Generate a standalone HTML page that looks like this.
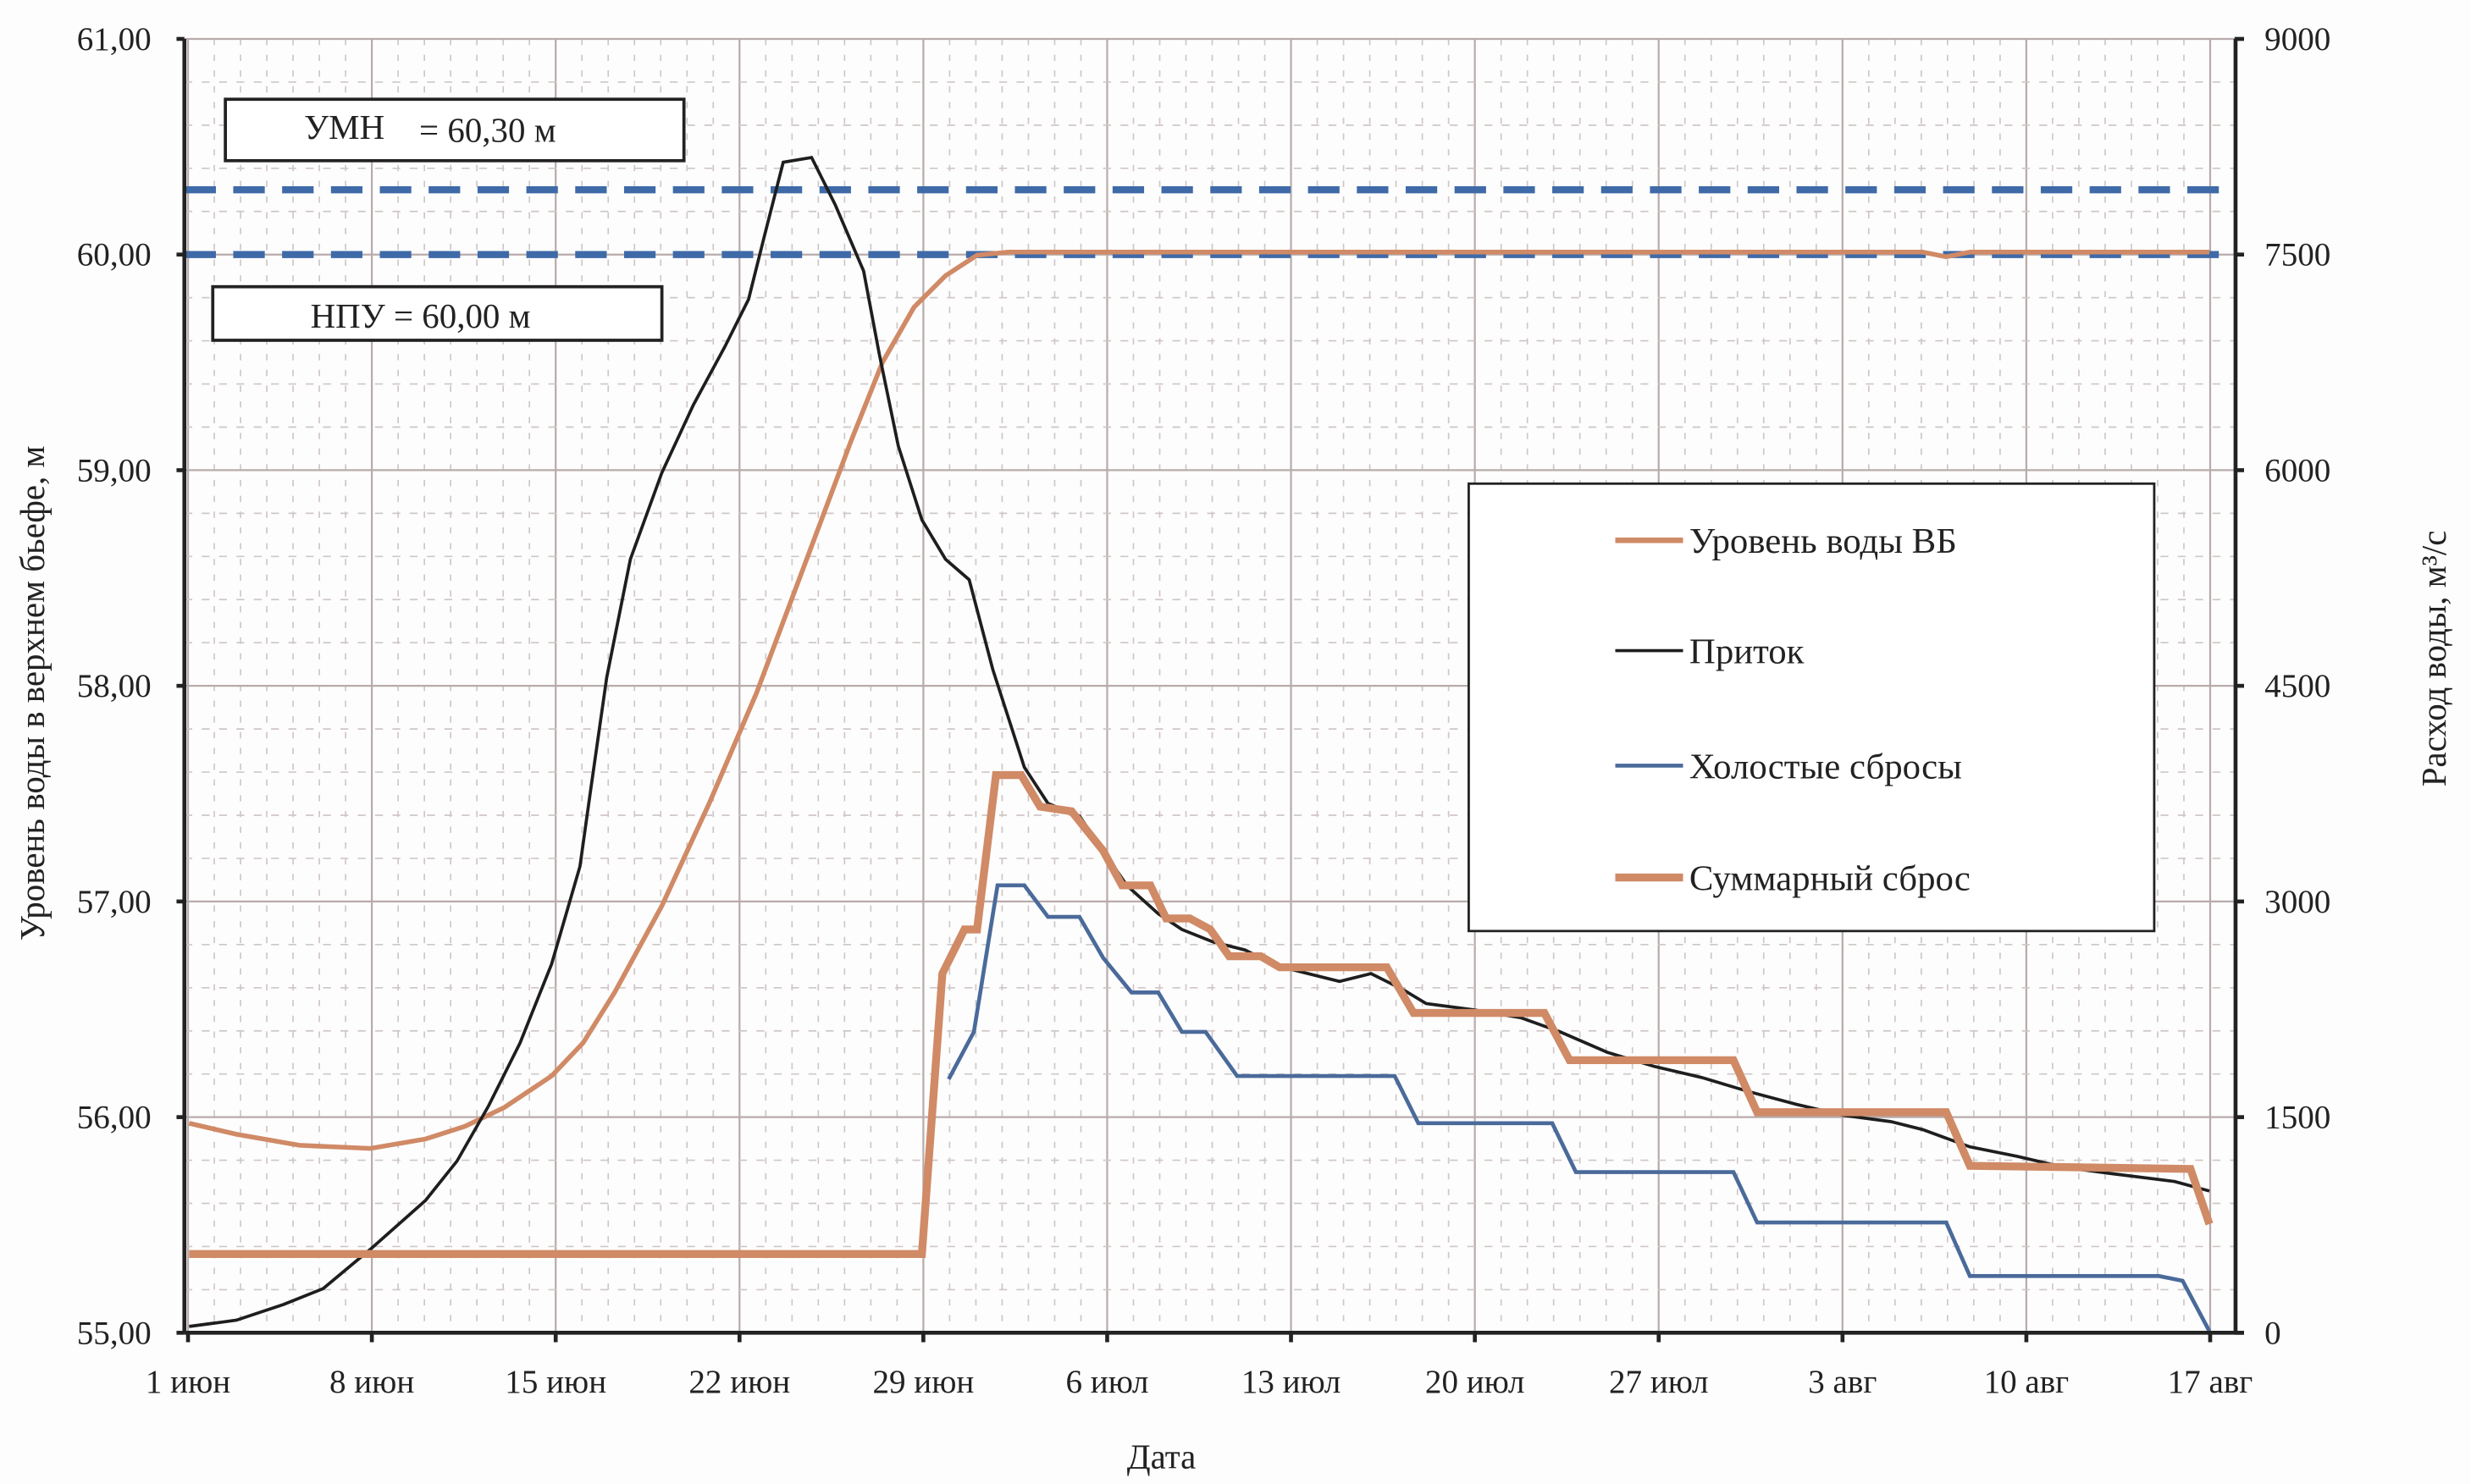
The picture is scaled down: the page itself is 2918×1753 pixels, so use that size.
<!DOCTYPE html>
<html><head><meta charset="utf-8"><style>
html,body{margin:0;padding:0;background:#fdfdfd;}
svg{display:block;}
text{font-family:"Liberation Serif","DejaVu Serif",serif;fill:#222;}
</style></head><body>
<svg id="s" width="2918" height="1753" viewBox="0 0 1568 942" xmlns="http://www.w3.org/2000/svg">
<rect width="1568" height="942" fill="#fdfdfd"/>
<g id="grid"></g>
<line x1="117" y1="120.5" x2="1418" y2="120.5" stroke="#3f6aa8" stroke-width="4.5" stroke-dasharray="20,11"/>
<line x1="117" y1="161.6" x2="1418" y2="161.6" stroke="#3f6aa8" stroke-width="4.5" stroke-dasharray="20,11"/>
<rect x="143" y="63" width="291" height="39" fill="#fff" stroke="#222" stroke-width="2"/>
<text x="193" y="88" font-size="22">УМН</text><text x="266" y="90" font-size="22">= 60,30  м</text>
<rect x="135" y="182" width="285" height="34" fill="#fff" stroke="#222" stroke-width="2"/>
<text x="197" y="208" font-size="22">НПУ = 60,00  м</text>
<polyline fill="none" stroke="#d08a66" stroke-width="3" points="120,713 150,720 190,727 235,729 270,723 295,715 320,703 350,683 370,662 390,630 420,575 450,510 480,440 510,360 540,280 560,230 580,195 600,175 620,162 640,160 900,160 1220,160 1235,163 1250,160 1402,160"/>
<polyline fill="none" stroke="#1e1e1e" stroke-width="2" points="120,842 150,838 180,828 205,818 235,793 270,762 290,737 310,702 330,662 350,612 368,550 375,500 385,430 400,355 420,300 440,257 460,220 475,190 485,150 497,103 515,100 530,130 548,172 558,225 570,283 585,330 600,355 615,368 630,425 650,487 665,510 685,518 700,540 715,562 735,580 750,590 770,598 790,603 810,613 830,618 850,623 870,618 890,628 905,637 935,641 965,646 990,655 1020,668 1050,677 1080,684 1110,693 1140,701 1170,708 1200,712 1220,717 1250,728 1280,734 1310,741 1340,745 1380,750 1402,756"/>
<polyline fill="none" stroke="#4a6a9a" stroke-width="2.5" points="602,685 618,655 633,562 650,562 665,582 685,582 700,608 718,630 735,630 750,655 765,655 785,683 885,683 900,713 985,713 1000,744 1100,744 1115,776 1235,776 1250,810 1370,810 1385,813 1402,845"/>
<polyline fill="none" stroke="#d08a66" stroke-width="5" points="120,796 585,796 598,618 612,590 620,590 632,492 648,492 660,512 680,515 700,540 712,562 730,562 740,583 755,583 768,590 780,607 800,607 812,614 880,614 897,643 980,643 996,673 1100,673 1115,706 1235,706 1250,740 1390,742 1402,777"/>
<line x1="117" y1="24.7" x2="117" y2="846" stroke="#222" stroke-width="2.5"/>
<line x1="1418.6" y1="24.7" x2="1418.6" y2="846" stroke="#222" stroke-width="2.5"/>
<line x1="117" y1="846" x2="1424" y2="846" stroke="#222" stroke-width="2.5"/>
<g id="ticks"></g>
<rect x="932" y="307" width="435" height="284" fill="#fff" stroke="#222" stroke-width="1.5"/>
<line x1="1025" y1="343" x2="1068" y2="343" stroke="#d08a66" stroke-width="3.5"/>
<text x="1072" y="351" font-size="23">Уровень воды ВБ</text>
<line x1="1025" y1="413" x2="1068" y2="413" stroke="#1e1e1e" stroke-width="2"/>
<text x="1072" y="421" font-size="23">Приток</text>
<line x1="1025" y1="486" x2="1068" y2="486" stroke="#4a6a9a" stroke-width="2.5"/>
<text x="1072" y="494" font-size="23">Холостые сбросы</text>
<line x1="1025" y1="557" x2="1068" y2="557" stroke="#d08a66" stroke-width="5"/>
<text x="1072" y="565" font-size="23">Суммарный сброс</text>
<text x="737" y="932" font-size="22" text-anchor="middle">Дата</text>
<text transform="translate(28,440) rotate(-90)" font-size="22" text-anchor="middle">Уровень воды в верхнем бьефе, м</text>
<text transform="translate(1552,418) rotate(-90)" font-size="22" text-anchor="middle">Расход  воды, м³/с</text>
</svg>
<script>
var NS="http://www.w3.org/2000/svg",g=document.getElementById('grid'),t=document.getElementById('ticks');
function el(p,tag,a,txt){var e=document.createElementNS(NS,tag);for(var k in a)e.setAttribute(k,a[k]);if(txt!==undefined)e.textContent=txt;p.appendChild(e);return e;}
var x0=119.3,dx=(1402.5-119.3)/77,yt=24.7,yb=846,ym=(yb-yt)/6;
for(var d=0;d<=79;d++){var x=x0+d*dx;if(x>1418)break;
 if(d%7==0) el(g,'line',{x1:x,y1:yt,x2:x,y2:yb,stroke:'#b9abab','stroke-width':1.2});
 else el(g,'line',{x1:x,y1:yt,x2:x,y2:yb,stroke:'#d0c6c6','stroke-width':0.9,'stroke-dasharray':'4,6'});}
for(var i=0;i<=30;i++){var y=yt+i*ym/5;
 if(i%5==0) el(g,'line',{x1:117,y1:y,x2:1418,y2:y,stroke:'#b9abab','stroke-width':1.2});
 else el(g,'line',{x1:117,y1:y,x2:1418,y2:y,stroke:'#d0c6c6','stroke-width':0.9,'stroke-dasharray':'5,6'});}
var lv=['61,00','60,00','59,00','58,00','57,00','56,00','55,00'],rv=['9000','7500','6000','4500','3000','1500','0'];
for(var i=0;i<7;i++){var y=yt+i*ym;
 el(t,'line',{x1:112,y1:y,x2:117,y2:y,stroke:'#222','stroke-width':2.5});
 el(t,'line',{x1:1418,y1:y,x2:1424,y2:y,stroke:'#222','stroke-width':2.5});
 el(t,'text',{x:96,y:y+7,'font-size':21,'text-anchor':'end'},lv[i]);
 el(t,'text',{x:1437,y:y+7,'font-size':21},rv[i]);}
var lb=['1 июн','8 июн','15 июн','22 июн','29 июн','6 июл','13 июл','20 июл','27 июл','3 авг','10 авг','17 авг'];
for(var i=0;i<12;i++){var x=x0+i*7*dx;
 el(t,'line',{x1:x,y1:846,x2:x,y2:852,stroke:'#222','stroke-width':2.5});
 el(t,'text',{x:x,y:884,'font-size':21,'text-anchor':'middle'},lb[i]);}
</script>
</body></html>
